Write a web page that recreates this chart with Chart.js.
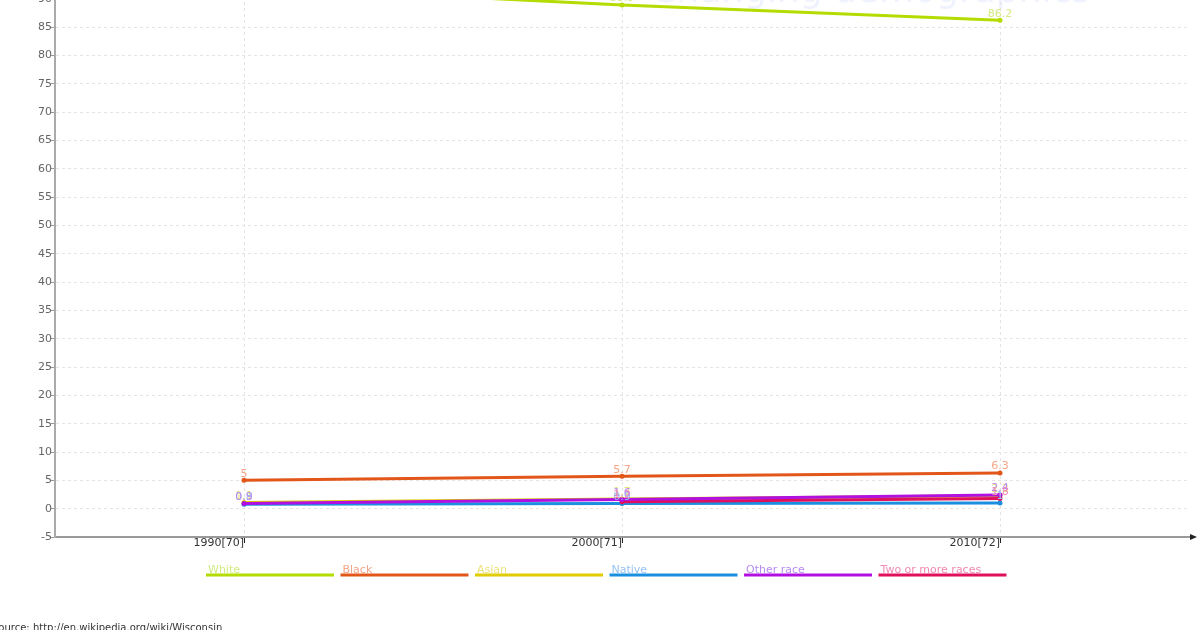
<!DOCTYPE html>
<html><head><meta charset="utf-8">
<script src="https://cdn.jsdelivr.net/npm/chart.js@4"></script>
<style>
html,body{margin:0;padding:0;overflow:hidden;background:#fff;width:1200px;height:630px;position:relative;}
#wrap{position:absolute;left:-10px;top:-70px;width:1220px;height:710px;}
</style></head><body>
<div id="wrap"><canvas id="c"></canvas></div>
<script>
const years = ['1990[70]', '2000[71]', '2010[72]'];
const white = [92.2, 88.9, 86.2];
const black = [5.0, 5.7, 6.3];
const asian = [1.1, 1.7, 2.3];
const native = [0.8, 0.9, 1.0];
const otherRace = [0.9, 1.6, 2.4];
const twoOrMore = [null, 1.2, 1.8];
const seriesNames = ['White', 'Black', 'Asian', 'Native', 'Other race', 'Two or more races'];
const yMin = -5, yMax = 100, yStep = 5;
const sourceText = 'Source: http://en.wikipedia.org/wiki/Wisconsin';
const watermark = 'Changing demographics';

const lineColors = ['#b4dc00', '#e2561a', '#e0cc00', '#1a8fe0', '#b010e0', '#e0105c'];
const labelColors = ['#d2ea80', '#f4a688', '#ece27c', '#96c2f0', '#b88cf2', '#f08ab4'];
const drawOrder = [3, 4, 5, 6, 1, 2];
const seriesValues = [white, black, asian, native, otherRace, twoOrMore];

const FONT = '"DejaVu Sans", Verdana, sans-serif';

const datasets = seriesValues.map((vals, i) => ({
  label: seriesNames[i],
  data: vals,
  borderColor: lineColors[i],
  backgroundColor: lineColors[i],
  borderWidth: 3,
  pointRadius: 2.5,
  pointHoverRadius: 2.5,
  pointBorderWidth: 0,
  tension: 0,
  spanGaps: false,
  order: drawOrder[i],
  labelColor: labelColors[i]
}));

const extras = {
  id: 'extras',
  beforeDraw(chart) {
    const ctx = chart.ctx;
    ctx.save();
    ctx.font = '36px ' + FONT;
    ctx.fillStyle = '#f0f2fd';
    ctx.textAlign = 'right';
    ctx.textBaseline = 'alphabetic';
    ctx.fillText(watermark, 1100, 72);
    ctx.restore();
  },
  afterDatasetsDraw(chart) {
    const ctx = chart.ctx;
    ctx.save();
    ctx.font = '11px ' + FONT;
    ctx.textAlign = 'center';
    ctx.textBaseline = 'bottom';
    chart.data.datasets.forEach((ds, di) => {
      const meta = chart.getDatasetMeta(di);
      meta.data.forEach((pt, j) => {
        const v = ds.data[j];
        if (v === null || v === undefined) return;
        ctx.fillStyle = ds.labelColor;
        ctx.fillText(String(v), pt.x, pt.y - 1);
      });
    });
    ctx.restore();
  },
  afterDraw(chart) {
    const ctx = chart.ctx;
    const a = chart.chartArea;
    ctx.save();
    ctx.fillStyle = '#222';
    ctx.beginPath();
    ctx.moveTo(a.right + 1, a.bottom - 3);
    ctx.lineTo(a.right + 8, a.bottom);
    ctx.lineTo(a.right + 1, a.bottom + 3);
    ctx.closePath();
    ctx.fill();
    const start = 216, step = 134.5, w = 128, lineY = 645;
    ctx.font = '11px ' + FONT;
    ctx.textAlign = 'left';
    ctx.textBaseline = 'alphabetic';
    chart.data.datasets.forEach((ds, i) => {
      const x0 = start + i * step;
      ctx.fillStyle = ds.labelColor;
      ctx.fillText(ds.label, x0 + 2, lineY - 2);
      ctx.strokeStyle = ds.borderColor;
      ctx.lineWidth = 3;
      ctx.beginPath();
      ctx.moveTo(x0, lineY);
      ctx.lineTo(x0 + w, lineY);
      ctx.stroke();
    });
    ctx.font = '10px ' + FONT;
    ctx.fillStyle = '#333';
    ctx.fillText(sourceText, 2, 701);
    ctx.restore();
  }
};

new Chart(document.getElementById('c'), {
  type: 'line',
  data: { labels: years, datasets },
  options: {
    responsive: true,
    maintainAspectRatio: false,
    animation: false,
    events: [],
    layout: { padding: { top: 12, left: 0, right: 21, bottom: 83 } },
    plugins: { legend: { display: false }, tooltip: { enabled: false }, title: { display: false } },
    scales: {
      x: {
        type: 'category',
        offset: true,
        grid: {
          offset: false,
          color: '#e4e4e4',
          lineWidth: 1,
          drawTicks: true,
          tickLength: 6,
          tickColor: '#222',
          tickWidth: 1,
          tickBorderDash: []
        },
        border: { display: true, color: '#999', width: 2, dash: [3, 3] },
        ticks: {
          color: '#333',
          font: { family: FONT, size: 11 },
          align: 'end',
          padding: -6,
          maxRotation: 0,
          autoSkip: false
        },
        afterFit(scale) { scale.height = 20; }
      },
      y: {
        min: yMin,
        max: yMax,
        grid: {
          color: '#e4e4e4',
          lineWidth: 1,
          drawTicks: true,
          tickLength: 4,
          tickColor: '#999',
          tickWidth: 1,
          tickBorderDash: []
        },
        border: { display: true, color: '#aaa', width: 2, dash: [3, 3] },
        ticks: {
          stepSize: yStep,
          color: '#666',
          font: { family: FONT, size: 11 },
          padding: -1
        },
        afterFit(scale) { scale.width = 65; }
      }
    }
  },
  plugins: [extras]
});
</script>
</body></html>
